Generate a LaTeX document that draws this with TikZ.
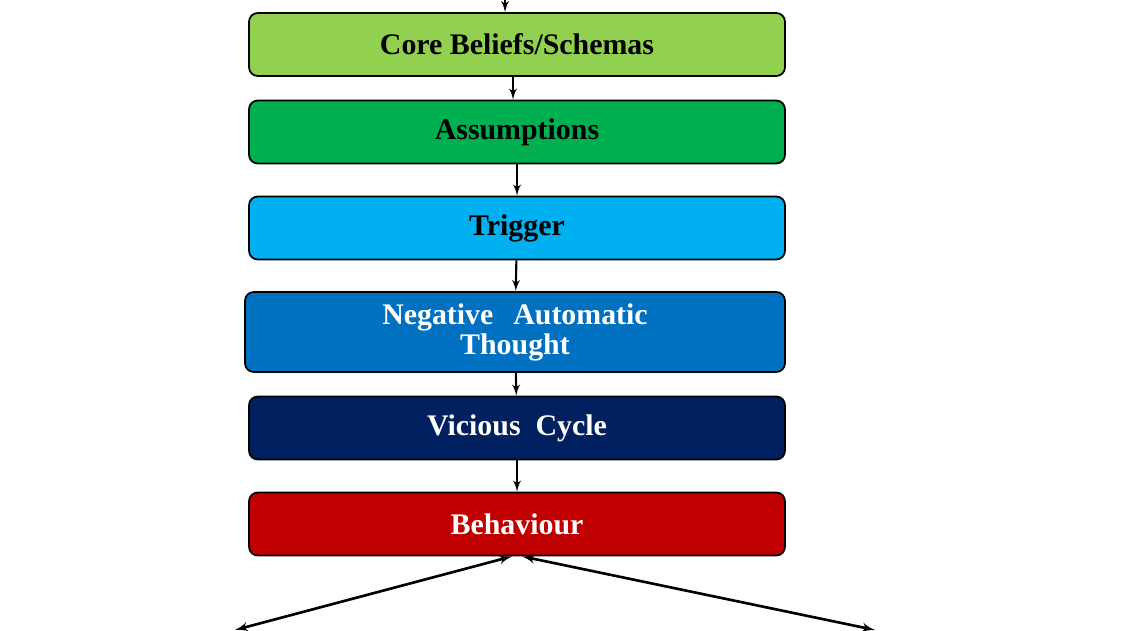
\documentclass[tikz,border=0pt]{standalone}
\usepackage{fontspec}
\setmainfont{Liberation Serif}
\usetikzlibrary{arrows}
\definecolor{lgreen}{HTML}{92D050}
\definecolor{dgreen}{HTML}{00B050}
\definecolor{lblue}{HTML}{00B0F0}
\definecolor{mblue}{HTML}{0070C0}
\definecolor{navy}{HTML}{002060}
\definecolor{dred}{HTML}{C00000}
\tikzstyle{stage} = [rectangle, draw, line width=1pt, rounded corners=5pt,
    minimum width=10.72cm, minimum height=1.26cm, text centered,
    font=\fontsize{17}{20}\selectfont\bfseries]
\tikzstyle{line} = [draw, line width=1.2pt, -latex']
\tikzstyle{both} = [draw, line width=1.5pt, latex'-latex']
\begin{document}
\begin{tikzpicture}
 \useasboundingbox (0,0) rectangle (22.88,12.6);
 \node at (10.34,11.71) [stage, fill=lgreen, name=core] {Core Beliefs/Schemas};
 \node at (10.34,9.96) [stage, fill=dgreen, name=assum] {Assumptions};
 \node at (10.34,8.04) [stage, fill=lblue, name=trig] {Trigger};
 \node at (10.30,5.96) [stage, fill=mblue, text=white, minimum width=10.8cm, minimum height=1.6cm, text width=10cm, align=center, name=nat] {Negative\ \ Automatic\\[-3pt] Thought};
 \node at (10.34,4.04) [stage, fill=navy, text=white, name=vic] {Vicious\ \ Cycle};
 \node at (10.34,2.12) [stage, fill=dred, text=white, name=behav] {Behaviour};
 \coordinate (top) at (10.1,12.6);
 \coordinate (lend) at (4.7,0);
 \coordinate (rend) at (17.5,0);
 \path [line] (top) -- (top |- core.north);
 \path [line] (10.26,0 |- core.south) -- (10.26,0 |- assum.north);
 \path [line] (assum) -- (trig);
 \path [line] (trig) -- (nat);
 \path [line] (nat) -- (vic);
 \path [line] (vic) -- (behav);
 \path [both] (lend) -- ([xshift=-0.1cm]behav.south);
 \path [both] (rend) -- ([xshift=0.1cm]behav.south);
\end{tikzpicture}
\end{document}
